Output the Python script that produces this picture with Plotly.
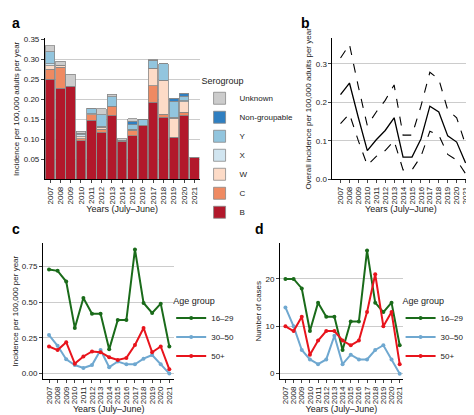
import plotly.graph_objects as go

years = [str(y) for y in range(2007, 2022)]

# panel a: stacked incidence by serogroup
sero_B = [0.250, 0.227, 0.233, 0.097, 0.148, 0.118, 0.160, 0.095, 0.109, 0.135, 0.192, 0.155, 0.105, 0.160, 0.056]
sero_C = [0.025, 0.053, 0.000, 0.005, 0.013, 0.007, 0.022, 0.000, 0.014, 0.000, 0.042, 0.007, 0.000, 0.007, 0.000]
sero_W = [0.008, 0.005, 0.000, 0.005, 0.003, 0.005, 0.000, 0.003, 0.002, 0.000, 0.043, 0.085, 0.048, 0.027, 0.000]
sero_X = [0.005, 0.000, 0.000, 0.005, 0.000, 0.003, 0.000, 0.000, 0.000, 0.000, 0.000, 0.000, 0.002, 0.002, 0.000]
sero_Y = [0.030, 0.000, 0.000, 0.003, 0.013, 0.028, 0.024, 0.000, 0.012, 0.015, 0.020, 0.042, 0.040, 0.012, 0.000]
sero_NG = [0.000, 0.000, 0.000, 0.000, 0.000, 0.000, 0.000, 0.000, 0.008, 0.000, 0.000, 0.000, 0.007, 0.006, 0.000]
sero_Unk = [0.015, 0.010, 0.029, 0.005, 0.000, 0.015, 0.007, 0.004, 0.006, 0.000, 0.002, 0.000, 0.000, 0.000, 0.000]

# panel b: overall incidence with 95% interval
overall = [0.220, 0.250, 0.160, 0.075, 0.103, 0.127, 0.160, 0.058, 0.058, 0.105, 0.190, 0.175, 0.113, 0.097, 0.043]
upper = [0.315, 0.350, 0.240, 0.140, 0.175, 0.205, 0.245, 0.115, 0.115, 0.190, 0.278, 0.260, 0.180, 0.160, 0.090]
lower = [0.145, 0.170, 0.100, 0.037, 0.060, 0.075, 0.100, 0.025, 0.025, 0.060, 0.125, 0.115, 0.065, 0.050, 0.015]

# panel c: incidence by age group
inc_16_29 = [0.73, 0.72, 0.645, 0.32, 0.53, 0.42, 0.42, 0.17, 0.375, 0.375, 0.87, 0.495, 0.425, 0.49, 0.19]
inc_30_50 = [0.27, 0.195, 0.10, 0.06, 0.04, 0.06, 0.165, 0.045, 0.085, 0.065, 0.065, 0.105, 0.13, 0.065, 0.0]
inc_50p = [0.19, 0.165, 0.22, 0.07, 0.12, 0.155, 0.15, 0.115, 0.095, 0.11, 0.20, 0.32, 0.15, 0.19, 0.03]

# panel d: number of cases by age group
n_16_29 = [20, 20, 18, 9, 15, 12, 12, 5, 11, 11, 26, 15, 13, 15, 6]
n_30_50 = [14, 10, 5, 3, 2, 3, 8, 2, 4, 3, 3, 5, 6, 3, 0]
n_50p = [10, 9, 12, 4, 7, 9, 9, 7, 6, 7, 13, 21, 10, 13, 2]

sero = [("B", sero_B, "#b2182b"), ("C", sero_C, "#ef8a62"), ("W", sero_W, "#fddbc7"),
        ("X", sero_X, "#d1e5f0"), ("Y", sero_Y, "#92c5de"),
        ("Non-groupable", sero_NG, "#2f7fc1"), ("Unknown", sero_Unk, "#cccccc")]
ages = [("16–29", "#1a6b1a"), ("30–50", "#6fa8d0"), ("50+", "#e8141c")]

fig = go.Figure()
for name, vals, col in sero:
    fig.add_trace(go.Bar(x=years, y=vals, name=name, marker_color=col,
                         marker_line=dict(color="#888888", width=0.8),
                         xaxis="x", yaxis="y", legend="legend"))

fig.add_trace(go.Scatter(x=years, y=overall, mode="lines", line=dict(color="black", width=1.3),
                         xaxis="x2", yaxis="y2", showlegend=False))
for ci in (upper, lower):
    fig.add_trace(go.Scatter(x=years, y=ci, mode="lines", line=dict(color="black", width=1.1, dash="dash"),
                             xaxis="x2", yaxis="y2", showlegend=False))

for (name, col), vals in zip(ages, [inc_16_29, inc_30_50, inc_50p]):
    fig.add_trace(go.Scatter(x=years, y=vals, name=name, mode="lines+markers",
                             line=dict(color=col, width=2), marker=dict(size=4),
                             xaxis="x3", yaxis="y3", legend="legend2"))
for (name, col), vals in zip(ages, [n_16_29, n_30_50, n_50p]):
    fig.add_trace(go.Scatter(x=years, y=vals, name=name, mode="lines+markers",
                             line=dict(color=col, width=2), marker=dict(size=4),
                             xaxis="x4", yaxis="y4", legend="legend3"))

tick = dict(size=8, color="#222")
def xax(dom, rng, anchor):
    return dict(domain=dom, range=rng, anchor=anchor, type="category", tickangle=-90,
                tickmode="array", tickvals=years, ticktext=years,
                tickfont=tick, showline=True, linecolor="black", ticks="outside", ticklen=3,
                showgrid=False, title=dict(text="Years (July–June)", font=dict(size=9), standoff=0))
def yax(dom, rng, anchor, title, **kw):
    return dict(domain=dom, range=rng, anchor=anchor, tickfont=tick, showline=True, linecolor="black",
                ticks="outside", ticklen=3, gridcolor="#cccccc", gridwidth=1, zeroline=False,
                title=dict(text=title, font=dict(size=8), standoff=2), **kw)

top = [0.586, 0.933]
bot = [0.095, 0.43]
leg = dict(font=dict(size=8), itemwidth=30, tracegroupgap=0, bgcolor="rgba(0,0,0,0)")
fig.update_layout(
    width=474, height=415, margin=dict(l=0, r=0, t=0, b=0),
    plot_bgcolor="white", paper_bgcolor="white", barmode="stack", bargap=0.08,
    font=dict(family="Liberation Sans, Arial, sans-serif", color="#222"),
    xaxis=xax([0.078, 0.405], [-0.5, 14.5], "y"),
    yaxis=yax(top, [0, 0.352], "x", "Incidence per 100,000 adults per year",
              tickvals=[0.05, 0.10, 0.15, 0.20, 0.25, 0.30, 0.35], tickformat=".2f"),
    xaxis2=xax([0.686, 0.975], [-0.9, 14.4], "y2"),
    yaxis2=yax(top, [0, 0.366], "x2", "Overall incidence per 100,000 adults per year",
               tickvals=[0, 0.1, 0.2, 0.3], tickformat=".1f"),
    xaxis3=xax([0.074, 0.352], [-0.7, 14.6], "y3"),
    yaxis3=yax(bot, [-0.04, 0.915], "x3", "Incidence per 100,000 per year",
               tickvals=[0, 0.25, 0.5, 0.75], tickformat=".2f"),
    xaxis4=xax([0.575, 0.835], [-0.67, 14.4], "y4"),
    yaxis4=yax(bot, [-1.2, 27.6], "x4", "Number of cases", tickvals=[0, 10, 20]),
    legend=dict(x=0.405, y=0.85, xanchor="left", yanchor="top", traceorder="reversed",
                title=dict(text="Serogroup", font=dict(size=9)), **leg),
    legend2=dict(x=0.345, y=0.31, xanchor="left", yanchor="top",
                 title=dict(text="Age group", font=dict(size=9)), **leg),
    legend3=dict(x=0.83, y=0.31, xanchor="left", yanchor="top",
                 title=dict(text="Age group", font=dict(size=9)), **leg),
)
for txt, x, y in [("a", 0.004, 0.995), ("b", 0.615, 0.995), ("c", 0.004, 0.49), ("d", 0.517, 0.49)]:
    fig.add_annotation(text="<b>%s</b>" % txt, x=x, y=y, xref="paper", yref="paper",
                       xanchor="left", yanchor="top", showarrow=False, font=dict(size=14, color="black"))

fig.write_html("out.html")
